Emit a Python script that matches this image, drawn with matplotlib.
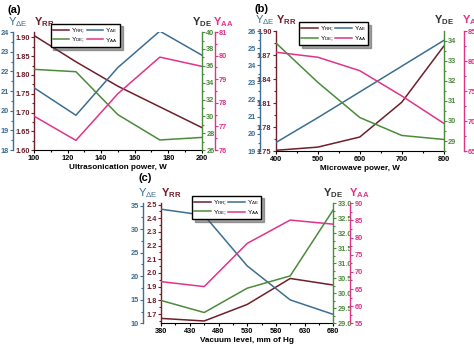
import matplotlib
matplotlib.use('Agg')
import matplotlib.pyplot as plt
from matplotlib.ticker import AutoMinorLocator, FormatStrFormatter

# colours of the four responses
c_rr = '#6e1f2a'
c_de = '#3b6e91'   # delta E
c_dy = '#4b8b3b'   # DE
c_aa = '#e0338a'

# (a) ultrasonication power
x_a = [100, 125, 150, 175, 200]
rr_a = [1.905, 1.835, 1.770, 1.715, 1.660]
dE_a = [21.17, 19.77, 22.2, 24.05, 22.83]
de_a = [35.58, 35.3, 30.2, 27.2, 27.5]
aa_a = [77.44, 76.41, 78.39, 79.94, 79.55]
xt_a = [100, 120, 140, 160, 180, 200]
rrt_a = [1.60, 1.65, 1.70, 1.75, 1.80, 1.85, 1.90]
dEt_a = [18, 19, 20, 21, 22, 23, 24]
det_a = [26, 28, 30, 32, 34, 36, 38, 40]
aat_a = [76, 77, 78, 79, 80, 81]

# (b) microwave power
x_b = [400, 500, 600, 700, 800]
rr_b = [1.751, 1.755, 1.7676, 1.811, 1.881]
dE_b = [19.5, 20.95, 22.45, 23.95, 25.45]
de_b = [33.88, 31.92, 30.17, 29.28, 29.08]
aa_b = [81.48, 80.64, 78.4, 74.2, 69.64]
xt_b = [400, 500, 600, 700, 800]
rrt_b = [1.75, 1.78, 1.81, 1.84, 1.87, 1.90]
dEt_b = [19, 20, 21, 22, 23, 24, 25, 26]
det_b = [29, 30, 31, 32, 33, 34]
aat_b = [65, 70, 75, 80, 85]

# (c) vacuum level
x_c = [380, 455, 530, 605, 680]
rr_c = [1.668, 1.649, 1.77, 1.96, 1.912]
dE_c = [34.24, 32.94, 22.2, 14.97, 11.9]
de_c = [29.76, 29.36, 30.17, 30.58, 32.78]
aa_c = [67.15, 65.7, 78.3, 85.1, 83.9]
xt_c = [380, 430, 480, 530, 580, 630, 680]
rrt_c = [1.7, 1.8, 1.9, 2.0, 2.1, 2.2, 2.3, 2.4, 2.5]
dEt_c = [10, 15, 20, 25, 30, 35]
det_c = [29.0, 29.5, 30.0, 30.5, 31.0, 31.5, 32.0, 32.5, 33.0]
aat_c = [55, 60, 65, 70, 75, 80, 85, 90]

plt.rcParams['font.family'] = ['Liberation Sans', 'DejaVu Sans']
plt.rcParams['mathtext.fontset'] = 'custom'
plt.rcParams['mathtext.rm'] = 'Liberation Sans'
plt.rcParams['mathtext.it'] = 'Liberation Sans'
plt.rcParams['mathtext.bf'] = 'Liberation Sans:bold'

fig = plt.figure(figsize=(4.74, 3.49), dpi=100)

TS = 5.3


def style_axis(ax, side, color, ticks, fmt):
    ax.set_yticks(ticks)
    ax.yaxis.set_minor_locator(AutoMinorLocator(2))
    ax.yaxis.set_major_formatter(FormatStrFormatter(fmt))
    ax.tick_params(axis='y', which='both', colors=color, labelsize=TS,
                   direction='out', length=2.2, width=0.8, pad=1)
    ax.tick_params(axis='y', which='minor', length=1.3)
    for lab in ax.get_yticklabels():
        lab.set_fontweight('bold')
    ax.spines[side].set_color(color)
    ax.spines[side].set_linewidth(1.0)


def panel(rect, x, rr, dE, de, aa, xlim, xticks, xlabel, lims, ticks, fmts,
          offs, letter, leg_pos):
    ax = fig.add_axes(rect)
    ax.plot(x, rr, color=c_rr, lw=1.1)
    ax.set_xlim(*xlim)
    ax.set_xticks(xticks)
    ax.xaxis.set_minor_locator(AutoMinorLocator(2))
    ax.tick_params(axis='x', which='both', direction='out', length=2.2,
                   width=0.8, labelsize=TS, pad=1.5)
    ax.tick_params(axis='x', which='minor', length=1.3)
    for lab in ax.get_xticklabels():
        lab.set_fontweight('bold')
    ax.set_xlabel(xlabel, fontsize=5.9, fontweight='bold', labelpad=1)
    ax.spines['top'].set_visible(False)
    ax.spines['right'].set_visible(False)
    ax.set_ylim(*lims[0])
    style_axis(ax, 'left', c_rr, ticks[0], fmts[0])

    # delta E, left outer axis
    axe = ax.twinx()
    axe.plot(x, dE, color=c_de, lw=1.1)
    axe.yaxis.set_ticks_position('left')
    axe.yaxis.set_label_position('left')
    for s in ['top', 'right', 'bottom']:
        axe.spines[s].set_visible(False)
    axe.spines['left'].set_visible(True)
    axe.spines['left'].set_position(('axes', offs[0]))
    axe.set_ylim(*lims[1])
    style_axis(axe, 'left', c_de, ticks[1], '%d')

    # DE, right axis
    axd = ax.twinx()
    axd.plot(x, de, color=c_dy, lw=1.1)
    for s in ['top', 'left', 'bottom']:
        axd.spines[s].set_visible(False)
    axd.set_ylim(*lims[2])
    style_axis(axd, 'right', c_dy, ticks[2], fmts[1])

    # AA, right outer axis
    axa = ax.twinx()
    axa.plot(x, aa, color=c_aa, lw=1.1)
    for s in ['top', 'left', 'bottom']:
        axa.spines[s].set_visible(False)
    axa.spines['right'].set_position(('axes', offs[1]))
    axa.set_ylim(*lims[3])
    style_axis(axa, 'right', c_aa, ticks[3], '%d')

    # axis titles above the spines
    tr = ax.transAxes
    ax.text(offs[0] + 0.03, 1.03, r'Y$_{\Delta E}$', color=c_de, fontsize=8,
            ha='center', va='bottom', transform=tr)
    ax.text(0.0, 1.03, r'$\mathbf{Y_{RR}}$', color=c_rr, fontsize=8,
            ha='left', va='bottom', transform=tr)
    ax.text(1.0, 1.03, r'$\mathbf{Y_{DE}}$', color='#333333', fontsize=8,
            ha='center', va='bottom', transform=tr)
    ax.text(offs[1] - 0.01, 1.03, r'$\mathbf{Y_{AA}}$', color=c_aa,
            fontsize=8, ha='left', va='bottom', transform=tr)
    ax.text(offs[0] + 0.01, letter[1], letter[0], fontsize=8,
            fontweight='bold', ha='center', va='center', transform=tr)

    hs = ax.get_lines() + axd.get_lines() + axe.get_lines() + axa.get_lines()
    labels = [r'Y$_{RR}$;', r'Y$_{DE}$;', r'Y$_{\Delta E}$', r'Y$_{AA}$']
    axa.legend(hs, labels, ncol=2, fontsize=4.6, loc='upper left',
               bbox_to_anchor=leg_pos, frameon=True, fancybox=False,
               shadow=True, edgecolor='black', framealpha=1,
               handlelength=2.6, columnspacing=0.2, handletextpad=0.3,
               borderpad=0.35, labelspacing=0.15)
    return ax


panel([0.0717, 0.570, 0.354, 0.338], x_a, rr_a, dE_a, de_a, aa_a,
      (100, 200), xt_a, 'Ultrasonication power, W',
      [(1.60, 1.914), (18, 24), (26, 40), (76, 81)],
      [rrt_a, dEt_a, det_a, aat_a], ['%.2f', '%d'],
      (-0.125, 1.077), ('(a)', 1.19), (0.08, 1.1))

panel([0.582, 0.567, 0.354, 0.344], x_b, rr_b, dE_b, de_b, aa_b,
      (400, 800), xt_b, 'Microwave power, W',
      [(1.75, 1.90), (19, 26), (28.5, 34.47), (65, 85)],
      [rrt_b, dEt_b, det_b, aat_b], ['%.2f', '%d'],
      (-0.095, 1.119), ('(b)', 1.18), (0.12, 1.1))

panel([0.340, 0.0736, 0.363, 0.344], x_c, rr_c, dE_c, de_c, aa_c,
      (380, 680), xt_c, 'Vacuum level, mm of Hg',
      [(1.632, 2.51), (10, 35.5), (29, 33), (55, 90)],
      [rrt_c, dEt_c, det_c, aat_c], ['%.1f', '%.1f'],
      (-0.105, 1.099), ('(c)', 1.21), (0.16, 1.09))

fig.savefig('out.png', dpi=100)
